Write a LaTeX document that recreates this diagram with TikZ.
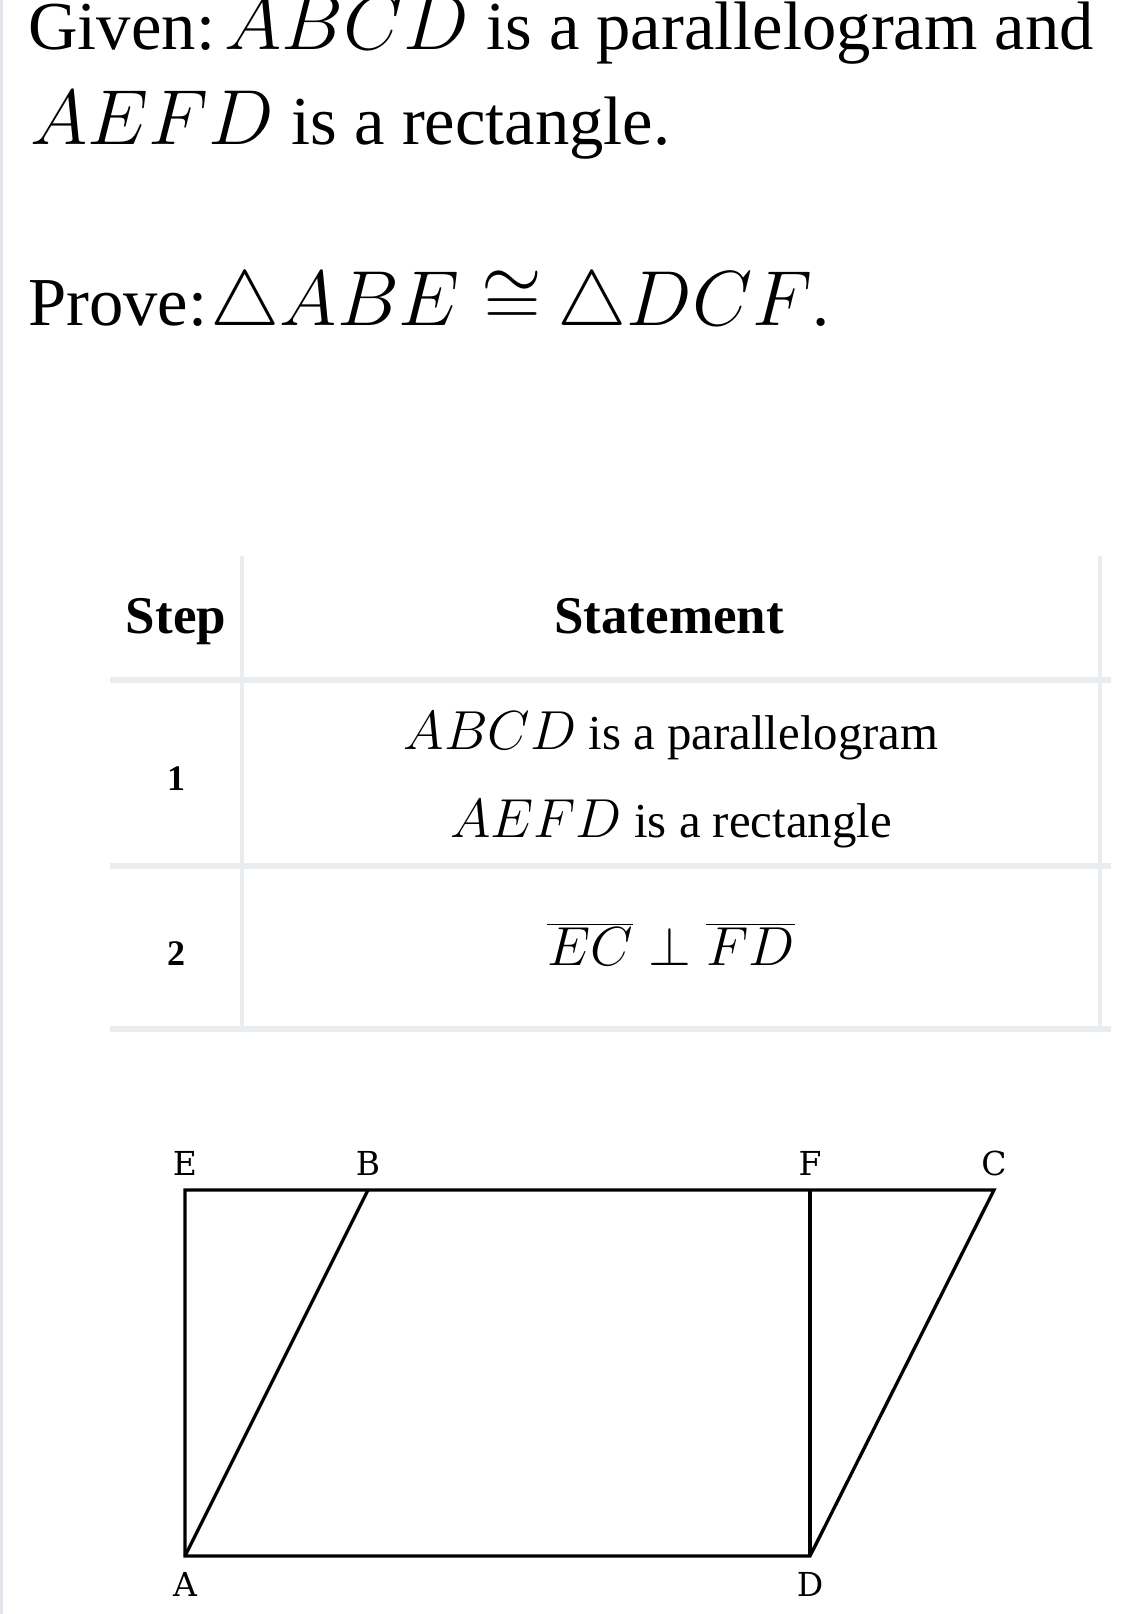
\RequirePackage{fix-cm}
\documentclass[tikz,border=0pt]{standalone}
\usepackage{fontspec}
\setmainfont{Liberation Serif}
\newfontfamily\lblfont{DejaVu Serif}
\usetikzlibrary{positioning}
\definecolor{rulegray}{RGB}{233,237,240}
\definecolor{edgegray}{RGB}{226,228,233}
\newcommand{\headtxt}{\fontsize{34.3}{48}\selectfont}
\newcommand{\headm}[1]{{\fontsize{39}{48}\selectfont$#1$}}
\newcommand{\tabtxt}{\fontsize{24.4}{30}\selectfont}
\newcommand{\tabm}[1]{{\fontsize{27.5}{30}\selectfont$#1$}}
\tikzset{
  rowline/.style={rulegray,line width=2.75pt},
  colline/.style={rulegray,line width=2pt},
  shape edge/.style={black,line width=1.65pt,line join=miter},
  vlabel/.style={font=\lblfont\fontsize{16.5}{16.5}\selectfont,inner sep=0pt}
}
\begin{document}
\begin{tikzpicture}[x=0.5pt,y=-0.5pt]
  \useasboundingbox (0,0) rectangle (1139,1614);
  \fill[white] (0,0) rectangle (1139,1614);
  \fill[edgegray] (0,0) rectangle (3,1614);

  % given and prove
  \node[anchor=base west,inner sep=0pt] (given1) at (28,49) {\headtxt Given:\kern4.5pt\headm{ABCD} is a parallelogram and};
  \node[anchor=base west,inner sep=0pt] (given2) at (30,144) {\headtxt \headm{AEFD} is a rectangle.};
  \node[anchor=base west,inner sep=0pt] (prove) at (28,325) {\headtxt Prove:\kern1.5pt\headm{\triangle ABE\cong\mkern-1.5mu\triangle DCF}.};

  % table
  \draw[colline] (242,556) -- (242,1029);
  \draw[colline] (1100,556) -- (1100,1029);
  \draw[rowline] (110,680) -- (1111,680);
  \draw[rowline] (110,866) -- (1111,866);
  \draw[rowline] (110,1029) -- (1111,1029);

  \node[anchor=base,inner sep=0pt] (hstep) at (176,633) {\fontsize{26.5}{30}\selectfont\bfseries Step};
  \node[anchor=base,inner sep=0pt] (hstat) at (669,633) {\fontsize{26.5}{30}\selectfont\bfseries Statement};
  \node[anchor=base,inner sep=0pt] (num1) at (176,790) {\fontsize{18}{20}\selectfont\bfseries 1};
  \node[anchor=base,inner sep=0pt] (stat1a) at (671,749) {\tabtxt \tabm{ABCD} is a parallelogram};
  \node[anchor=base,inner sep=0pt] (stat1b) at (671,837) {\tabtxt \tabm{AEFD} is a rectangle};
  \node[anchor=base,inner sep=0pt] (num2) at (176,965) {\fontsize{18}{20}\selectfont\bfseries 2};
  \node[anchor=base,inner sep=0pt] (stat2) at (671,965) {\tabm{\overline{EC}\perp\overline{FD}}};

  % figure
  \coordinate (E) at (185,1190);
  \coordinate (B) at (368,1190);
  \coordinate (F) at (810,1190);
  \coordinate (C) at (994,1190);
  \coordinate (A) at (185,1556);
  \coordinate (D) at (810,1556);

  \draw[shape edge] (E) -- (C) -- (D) -- (A) -- cycle;
  \draw[shape edge] (A) -- (B);
  \draw[shape edge] (F) -- (D);

  \node[vlabel,above=7pt of E] (lE) {E};
  \node[vlabel,above=7pt of B] (lB) {B};
  \node[vlabel,above=7pt of F] (lF) {F};
  \node[vlabel,above=7pt of C] (lC) {C};
  \node[vlabel,below=8pt of A] (lA) {A};
  \node[vlabel,below=8pt of D] (lD) {D};
\end{tikzpicture}
\end{document}
